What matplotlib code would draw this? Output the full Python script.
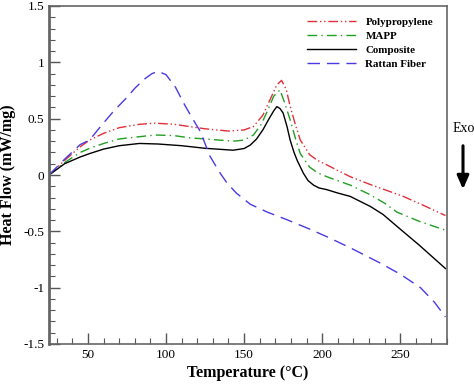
import matplotlib
matplotlib.use("Agg")
import matplotlib.pyplot as plt
from matplotlib.ticker import MultipleLocator

pp_x = [25, 35, 45, 51, 60, 70, 83, 93, 105, 115, 125, 140, 150, 156, 162, 167, 171, 174, 177, 179.5, 183, 186, 192, 197, 203, 210, 218, 230, 240, 252, 265, 279]
pp_y = [0, 0.13, 0.25, 0.31, 0.37, 0.42, 0.45, 0.46, 0.45, 0.43, 0.41, 0.39, 0.40, 0.43, 0.53, 0.68, 0.80, 0.84, 0.76, 0.61, 0.44, 0.31, 0.18, 0.13, 0.09, 0.04, -0.015, -0.08, -0.13, -0.19, -0.27, -0.36]

mapp_x = [25, 35, 45, 51, 60, 70, 83, 93, 105, 115, 125, 143, 150, 156, 161, 165, 169, 173, 176, 179.5, 183, 186, 192, 197, 203, 210, 218, 230, 240, 248, 262, 279]
mapp_y = [0, 0.11, 0.20, 0.237, 0.28, 0.32, 0.34, 0.355, 0.35, 0.33, 0.32, 0.30, 0.31, 0.355, 0.45, 0.57, 0.70, 0.755, 0.64, 0.49, 0.32, 0.19, 0.07, 0.02, -0.015, -0.05, -0.09, -0.17, -0.25, -0.33, -0.41, -0.49]

comp_x = [25, 35, 45, 51, 60, 70, 83, 95, 110, 125, 143, 150, 154, 158, 162, 166, 169, 171, 173, 175, 177.5, 179.5, 182, 184, 188, 191, 194.5, 198, 203, 210, 218, 231, 239, 250, 262, 279]
comp_y = [0, 0.10, 0.16, 0.19, 0.23, 0.26, 0.28, 0.275, 0.26, 0.237, 0.22, 0.235, 0.266, 0.32, 0.40, 0.50, 0.57, 0.607, 0.59, 0.55, 0.43, 0.31, 0.20, 0.13, 0.015, -0.05, -0.09, -0.115, -0.13, -0.16, -0.19, -0.28, -0.35, -0.48, -0.62, -0.83]

rf_x = [25, 35, 45, 51, 58, 66, 75, 80, 86, 91, 95, 100, 106, 112, 117, 122, 128, 134, 139, 145, 154, 165, 178, 192, 205, 220, 237, 250, 263, 272, 279]
rf_y = [0, 0.14, 0.27, 0.31, 0.43, 0.56, 0.69, 0.77, 0.85, 0.90, 0.92, 0.89, 0.78, 0.62, 0.50, 0.385, 0.17, 0.03, -0.07, -0.16, -0.26, -0.33, -0.40, -0.48, -0.56, -0.66, -0.78, -0.88, -1.00, -1.13, -1.26]

labels = ["Polypropylene", "MAPP", "Composite", "Rattan Fiber"]

serif = "Liberation Serif"
fig = plt.figure(figsize=(4.74, 3.85), dpi=100)
ax = fig.add_axes([49/474, 41/385, 398/474, 338/385])

ax.plot(pp_x, pp_y, color="#e0303a", lw=1.0, ls=(0, (7, 2, 1, 2, 1, 2)), label=labels[0])
ax.plot(mapp_x, mapp_y, color="#20a020", lw=1.0, ls=(0, (7, 3, 1, 3)), label=labels[1])
ax.plot(comp_x, comp_y, color="black", lw=1.0, ls="-", label=labels[2])
ax.plot(rf_x, rf_y, color="#4a3ae6", lw=1.0, ls=(0, (9, 5)), label=labels[3])

ax.set_xlim(25, 280)
ax.set_ylim(-1.5, 1.5)
ax.xaxis.set_major_locator(MultipleLocator(50))
ax.xaxis.set_minor_locator(MultipleLocator(10))
ax.yaxis.set_major_locator(MultipleLocator(0.5))
ax.yaxis.set_minor_locator(MultipleLocator(0.1))
ax.set_yticks([-1.5, -1, -0.5, 0, 0.5, 1, 1.5])
ax.set_yticklabels(["-1.5", "-1", "-0.5", "0", "0.5", "1", "1.5"])
ax.tick_params(which="both", direction="in", top=False, right=False, color="#555555")
ax.tick_params(which="major", length=8, width=1)
ax.tick_params(which="minor", length=4, width=0.8)
for lab in ax.get_xticklabels() + ax.get_yticklabels():
    lab.set_fontfamily(serif)
    lab.set_fontsize(9.5)
for s in ax.spines.values():
    s.set_color("#666666")
    s.set_linewidth(1.2)
ax.spines["left"].set_linewidth(2)

ax.set_xlabel("Temperature (°C)", fontfamily=serif, fontweight="bold", fontsize=11.5, labelpad=3)
ax.set_ylabel("Heat Flow (mW/mg)", fontfamily=serif, fontweight="bold", fontsize=11.5, labelpad=5)

fs = 7.9
leg = fig.legend(handles=ax.get_lines(), labels=labels, loc="upper right", frameon=False,
                 handlelength=4.5, handletextpad=0.85, borderpad=0.4, borderaxespad=0,
                 prop={"family": serif, "weight": "bold", "size": fs},
                 labelspacing=0.38, bbox_to_anchor=(437.5/474, 1 - 13/385))

fig.text(453/474, 1 - 128/385, "Exo", fontfamily=serif, fontsize=10, ha="left", va="center")
ax.annotate("", xy=(463/474, 1 - 192/385), xytext=(463/474, 1 - 143/385),
            xycoords="figure fraction", textcoords="figure fraction",
            arrowprops=dict(arrowstyle="-|>,head_width=0.35,head_length=0.8", color="black", lw=2.2))

fig.savefig("out.png", dpi=100)
